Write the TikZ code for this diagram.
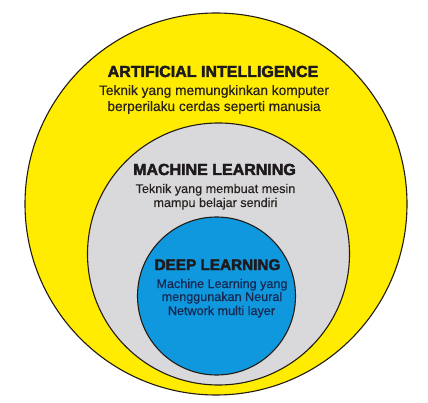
\documentclass[tikz,border=0pt]{standalone}
\usepackage{fontspec}
\setmainfont{Liberation Sans}
\newfontfamily\heavyfont{Liberation Sans}[BoldFeatures={FakeBold=2.6}]
\newfontfamily\bodyfont{Liberation Sans}[FakeBold=0.4]
\definecolor{aiyellow}{RGB}{255,236,0}
\definecolor{mlgray}{RGB}{217,217,220}
\definecolor{dlblue}{RGB}{16,152,222}
\definecolor{edge}{RGB}{35,28,20}
\definecolor{titlecol}{RGB}{30,26,28}
\definecolor{bodycol}{RGB}{40,34,30}
\definecolor{dlbody}{RGB}{22,40,80}
\tikzset{
  ring/.style={circle, draw=edge, line width=1.1pt, inner sep=0pt},
  headtxt/.style={anchor=base, inner sep=0pt, text=titlecol, font=\heavyfont\bfseries\fontsize{16}{18}\selectfont},
  bodytxt/.style={anchor=base, inner sep=0pt, text=bodycol, font=\bodyfont\fontsize{13.7}{16}\selectfont},
  smalltxt/.style={anchor=base, inner sep=0pt, text=bodycol, font=\bodyfont\fontsize{12.6}{14}\selectfont},
}
\begin{document}
\begin{tikzpicture}[x=1pt,y=-1pt]
\useasboundingbox (0,0) rectangle (428,403);
\fill[white] (0,0) rectangle (428,403);
\node[ring, fill=aiyellow, minimum size=382pt] (ai) at (216,204) {};
\node[ring, fill=mlgray, minimum size=262pt] (ml) at (218.5,254) {};
\node[ring, fill=dlblue, minimum size=158pt] (dl) at (216.5,296) {};

\node[headtxt] (aititle) at (213,77) {ARTIFICIAL INTELLIGENCE};
\node[bodytxt] (aiA) at (214,95) {Teknik yang memungkinkan komputer};
\node[bodytxt] (aiB) at (214,111) {berperilaku cerdas seperti manusia};

\node[headtxt] (mltitle) at (214.5,175) {MACHINE LEARNING};
\node[smalltxt] (mlA) at (215.5,193) {Teknik yang membuat mesin};
\node[smalltxt] (mlB) at (215.5,207) {mampu belajar sendiri};

\node[headtxt, font=\heavyfont\bfseries\fontsize{15.3}{17}\selectfont] (dltitle) at (217.5,270) {DEEP LEARNING};
\node[smalltxt, text=dlbody] (dlA) at (222,288) {Machine Learning yang};
\node[smalltxt, text=dlbody] (dlB) at (222,301) {menggunakan Neural};
\node[smalltxt, text=dlbody] (dlC) at (221.5,315) {Network multi layer};
\end{tikzpicture}
\end{document}
